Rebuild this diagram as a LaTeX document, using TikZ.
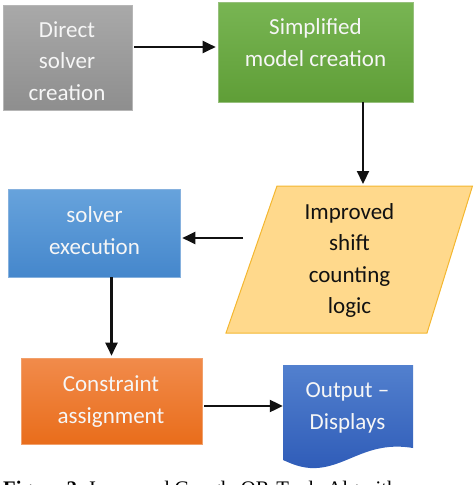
\documentclass[tikz,border=0pt]{standalone}
\usepackage{fontspec}
\setmainfont{Liberation Serif}
\newfontfamily\boxfont{Carlito}
\usetikzlibrary{arrows.meta,positioning}
\definecolor{GreyTop}{HTML}{A9A9A9}
\definecolor{GreyBot}{HTML}{8E8E8E}
\definecolor{GreenTop}{HTML}{78B553}
\definecolor{GreenBot}{HTML}{5F9E37}
\definecolor{SkyTop}{HTML}{67A3DC}
\definecolor{SkyBot}{HTML}{4587CC}
\definecolor{SunFill}{HTML}{FFD98C}
\definecolor{SunEdge}{HTML}{F4B730}
\definecolor{OrangeTop}{HTML}{F18B4B}
\definecolor{OrangeBot}{HTML}{E96D1B}
\definecolor{NavyTop}{HTML}{5280CE}
\definecolor{NavyBot}{HTML}{2F5CB8}
\definecolor{Ink}{HTML}{111111}
\definecolor{Paper}{HTML}{F6F6F6}

\begin{document}
\begin{tikzpicture}[x=1pt,y=-1pt,
  box/.style={draw=white!35!#1, line width=0.6pt, inner sep=0pt},
  txt/.style={font=\boxfont\fontsize{23}{31.5}\selectfont, align=center, inner sep=0pt, text=Paper},
  flow/.style={-{Triangle[length=13pt,width=12pt]}, line width=2.2pt, Ink, shorten <=2pt, shorten >=2pt}]
  \useasboundingbox (0,0) rectangle (474,485);
  \clip (0,0) rectangle (474,485);
  % boxes
  \node[box=GreyBot, top color=GreyTop, bottom color=GreyBot, minimum width=129pt, minimum height=105pt] (direct) at (67.5,57.5) {};
  \node[box=GreenBot, top color=GreenTop, bottom color=GreenBot, minimum width=195pt, minimum height=100pt] (simp) at (315.5,52) {};
  \node[box=SkyBot, top color=SkyTop, bottom color=SkyBot, minimum width=172pt, minimum height=88pt] (solver) at (94,233) {};
  \node[box=OrangeBot, top color=OrangeTop, bottom color=OrangeBot, minimum width=181pt, minimum height=86pt] (constraint) at (111.5,401) {};
  \filldraw[draw=SunEdge, fill=SunFill, line width=1pt] (277,186) -- (472.5,186) -- (427,333) -- (226,333) -- cycle;
  \shade[top color=NavyTop, bottom color=NavyBot] (283,365) -- (413,365) -- (413,448)
    .. controls (365,440) and (345,470) .. (310,468) .. controls (298,467) and (290,463) .. (283,460) -- cycle;
  \node[minimum width=130pt, minimum height=83pt, inner sep=0pt] (output) at (348,406.5) {};
  \coordinate (logictop) at (363,186);
  \coordinate (logicleft) at (245,238);
  % texts
  \node[txt] (directtxt) at (67,61) {Direct\\solver\\creation};
  \node[txt] (simptxt) at (315.5,42.5) {Simplified\\model creation};
  \node[txt] (solvertxt) at (94.5,230.5) {solver\\execution};
  \node[txt, text=Ink] (logictxt) at (349.5,260.5) {Improved\\shift\\counting\\logic};
  \node[txt] (constrainttxt) at (111,401.5) {Constraint\\assignment};
  \node[txt] (outputtxt) at (347.5,408) {Output –\\Displays};
  % connectors
  \draw[flow] (direct.east |- 0,47) -- (simp.west |- 0,47);
  \draw[flow, shorten <=0pt] (simp.south -| logictop) -- (logictop);
  \draw[flow] (logicleft) -- (logicleft -| solver.east);
  \draw[flow, shorten <=0pt] (solver.south -| constraint.north) -- (constraint.north);
  \draw[flow, shorten >=0pt] (constraint.east |- 0,406) -- (output.west |- 0,406);
  % caption, cut by the page edge
  \node[anchor=base west, inner sep=0pt, font=\fontsize{20.7}{24}\selectfont] (caption) at (3,495) {\textbf{Figure 2.} Improved Google OR-Tools Algorithm};
\end{tikzpicture}
\end{document}
